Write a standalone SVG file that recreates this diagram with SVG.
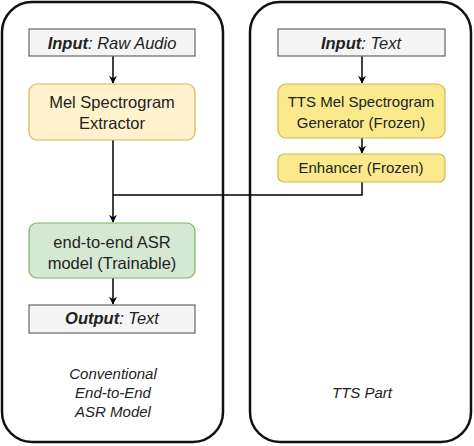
<svg xmlns="http://www.w3.org/2000/svg" width="474" height="446" viewBox="0 0 474 446">
<defs>
<marker id="arr" viewBox="0 0 10 10" refX="9" refY="5" markerWidth="8" markerHeight="8" markerUnits="userSpaceOnUse" orient="auto">
<path d="M0,0 L10,5 L0,10 L3,5 Z" fill="#000"/>
</marker>
<style>
text{font-family:"Liberation Sans",Arial,sans-serif;font-size:15px;fill:#222;text-anchor:middle}
.lg{font-size:16.5px}
.it{font-style:italic}
.b{font-weight:bold}
.cont{fill:#fff;stroke:#111;stroke-width:2.5}
.io{fill:#f5f5f5;stroke:#666;stroke-width:1.2}
.yel{fill:#fff2cc;stroke:#d6b656;stroke-width:1.2}
.yel2{fill:#fbea8c;stroke:#d6b656;stroke-width:1.2}
.grn{fill:#d5e8d4;stroke:#82b366;stroke-width:1.2}
.conn{fill:none;stroke:#000;stroke-width:1.5}
</style>
</defs>
<rect width="474" height="446" fill="#fff"/>
<g id="asr-container">
<rect class="cont" x="2" y="2" width="221" height="440" rx="30"/>
<text class="it" x="113" y="379">Conventional</text>
<text class="it" x="113" y="398">End-to-End</text>
<text class="it" x="113" y="417">ASR Model</text>
</g>
<g id="tts-container">
<rect class="cont" x="250" y="2" width="221" height="440" rx="30"/>
<text class="it" x="362" y="398">TTS Part</text>
</g>
<g id="connectors">
<line class="conn" x1="113" y1="56" x2="113" y2="83" marker-end="url(#arr)"/>
<line class="conn" x1="113" y1="140" x2="113" y2="222" marker-end="url(#arr)"/>
<polyline class="conn" points="362,182 362,195 113,195"/>
<line class="conn" x1="113" y1="278" x2="113" y2="304" marker-end="url(#arr)"/>
<line class="conn" x1="362" y1="56" x2="362" y2="83" marker-end="url(#arr)"/>
<line class="conn" x1="362" y1="138" x2="362" y2="153" marker-end="url(#arr)"/>
</g>
<g id="input-audio">
<rect class="io" x="29" y="29" width="166" height="27"/>
<text class="it lg" x="112" y="49"><tspan class="b">Input</tspan>: Raw Audio</text>
</g>
<g id="mel-extractor">
<rect class="yel" x="29" y="84" width="166" height="56" rx="8"/>
<text class="lg" x="112" y="108">Mel Spectrogram</text>
<text class="lg" x="112" y="129">Extractor</text>
</g>
<g id="asr-model">
<rect class="grn" x="29" y="223" width="166" height="55" rx="8"/>
<text class="lg" x="112" y="248">end-to-end ASR</text>
<text class="lg" x="112" y="269">model (Trainable)</text>
</g>
<g id="output-text">
<rect class="io" x="29" y="305" width="166" height="28"/>
<text class="it lg" x="112" y="324"><tspan class="b">Output</tspan>: Text</text>
</g>
<g id="input-text">
<rect class="io" x="278" y="29" width="167" height="27"/>
<text class="it lg" x="361" y="49"><tspan class="b">Input</tspan>: Text</text>
</g>
<g id="tts-generator">
<rect class="yel2" x="278" y="84" width="167" height="54" rx="8"/>
<text x="361" y="107">TTS Mel Spectrogram</text>
<text x="361" y="128">Generator (Frozen)</text>
</g>
<g id="enhancer">
<rect class="yel2" x="278" y="154" width="167" height="28" rx="6"/>
<text x="361" y="173">Enhancer (Frozen)</text>
</g>
</svg>
